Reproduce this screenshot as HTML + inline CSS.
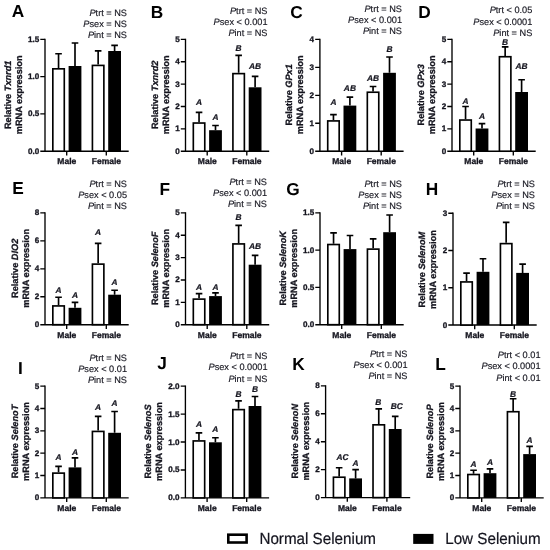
<!DOCTYPE html>
<html><head><meta charset="utf-8"><title>Figure</title>
<style>
html,body{margin:0;padding:0;background:#fff;}
svg{display:block;font-family:"Liberation Sans", Arial, sans-serif;fill:#15151f;text-rendering:geometricPrecision;}
.tk{font-size:8.1px;font-weight:bold;stroke:#15151f;stroke-width:.3px;}
.xl{font-size:8.5px;font-weight:bold;stroke:#15151f;stroke-width:.3px;}
.yl{font-size:9.2px;font-weight:bold;stroke:#15151f;stroke-width:.3px;}
.lt{font-size:8.4px;font-weight:bold;font-style:italic;stroke:#15151f;stroke-width:.2px;}
.tt{font-size:17.3px;font-weight:bold;fill:#000;}
.pp{font-size:9.2px;stroke:#15151f;stroke-width:.15px;}
.lg{font-size:15.6px;stroke:#15151f;stroke-width:.2px;}
</style></head><body>
<svg width="550" height="550" viewBox="0 0 550 550">
<rect width="550" height="550" fill="#fff"/>
<path d="M45.0 38.725 V151.2 M40.3 151.2 H128.7" stroke="#000" stroke-width="1.35" fill="none"/>
<text x="39.2" y="153.70" text-anchor="end" class="tk">0.0</text>
<text x="39.2" y="116.43" text-anchor="end" class="tk">0.5</text>
<text x="39.2" y="79.17" text-anchor="end" class="tk">1.0</text>
<text x="39.2" y="41.90" text-anchor="end" class="tk">1.5</text>
<path d="M40.3 113.93 H45.0 M40.3 76.67 H45.0 M40.3 39.40 H45.0 M66.7 151.2 V155.39999999999998 M106.3 151.2 V155.39999999999998 " stroke="#000" stroke-width="1.35" fill="none"/>
<path d="M58.55 68 V53.7 M55.25 53.7 H61.85" stroke="#000" stroke-width="1.65" fill="none"/>
<rect x="52.83" y="68.83" width="11.45" height="82.37" fill="#fff" stroke="#000" stroke-width="1.65"/>
<path d="M75.00 66.0 V43.0 M71.70 43.0 H78.30" stroke="#000" stroke-width="1.65" fill="none"/>
<rect x="68.60" y="66.00" width="12.80" height="85.20" fill="#000"/>
<path d="M98.15 64.6 V50.9 M94.85 50.9 H101.45" stroke="#000" stroke-width="1.65" fill="none"/>
<rect x="92.42" y="65.42" width="11.45" height="85.77" fill="#fff" stroke="#000" stroke-width="1.65"/>
<path d="M114.60 51 V45.3 M111.30 45.3 H117.90" stroke="#000" stroke-width="1.65" fill="none"/>
<rect x="108.20" y="51.00" width="12.80" height="100.20" fill="#000"/>
<text x="66.8" y="164.20" text-anchor="middle" class="xl">Male</text>
<text x="106.4" y="164.20" text-anchor="middle" class="xl">Female</text>
<text transform="translate(10.99 94.8) rotate(-90)" text-anchor="middle" class="yl">Relative <tspan font-style="italic">Txnrd1</tspan></text>
<text transform="translate(21.990000000000002 94.8) rotate(-90)" text-anchor="middle" class="yl">mRNA expression</text>
<text x="11.8" y="17.3" class="tt">A</text>
<text x="127" y="15.70" text-anchor="end" class="pp"><tspan font-style="italic">P</tspan>trt = NS</text>
<text x="127" y="26.60" text-anchor="end" class="pp"><tspan font-style="italic">P</tspan>sex = NS</text>
<text x="127" y="37.50" text-anchor="end" class="pp"><tspan font-style="italic">P</tspan>int = NS</text>
<path d="M185.5 38.725 V151.2 M180.8 151.2 H269.2" stroke="#000" stroke-width="1.35" fill="none"/>
<text x="179.7" y="153.70" text-anchor="end" class="tk">0</text>
<text x="179.7" y="131.34" text-anchor="end" class="tk">1</text>
<text x="179.7" y="108.98" text-anchor="end" class="tk">2</text>
<text x="179.7" y="86.62" text-anchor="end" class="tk">3</text>
<text x="179.7" y="64.26" text-anchor="end" class="tk">4</text>
<text x="179.7" y="41.90" text-anchor="end" class="tk">5</text>
<path d="M180.8 128.84 H185.5 M180.8 106.48 H185.5 M180.8 84.12 H185.5 M180.8 61.76 H185.5 M180.8 39.40 H185.5 M207.2 151.2 V155.39999999999998 M246.8 151.2 V155.39999999999998 " stroke="#000" stroke-width="1.35" fill="none"/>
<path d="M199.05 122.2 V112.4 M195.75 112.4 H202.35" stroke="#000" stroke-width="1.65" fill="none"/>
<rect x="193.32" y="123.03" width="11.45" height="28.17" fill="#fff" stroke="#000" stroke-width="1.65"/>
<text x="199.05" y="105" text-anchor="middle" class="lt">A</text>
<path d="M215.50 130.2 V125.5 M212.20 125.5 H218.80" stroke="#000" stroke-width="1.65" fill="none"/>
<rect x="209.10" y="130.20" width="12.80" height="21.00" fill="#000"/>
<text x="215.50" y="120" text-anchor="middle" class="lt">A</text>
<path d="M238.65 72.8 V55.4 M235.35 55.4 H241.95" stroke="#000" stroke-width="1.65" fill="none"/>
<rect x="232.92" y="73.62" width="11.45" height="77.57" fill="#fff" stroke="#000" stroke-width="1.65"/>
<text x="238.65" y="50.7" text-anchor="middle" class="lt">B</text>
<path d="M255.10 87.3 V76.4 M251.80 76.4 H258.40" stroke="#000" stroke-width="1.65" fill="none"/>
<rect x="248.70" y="87.30" width="12.80" height="63.90" fill="#000"/>
<text x="255.10" y="69" text-anchor="middle" class="lt">AB</text>
<text x="207.3" y="164.20" text-anchor="middle" class="xl">Male</text>
<text x="246.9" y="164.20" text-anchor="middle" class="xl">Female</text>
<text transform="translate(158.25 94.8) rotate(-90)" text-anchor="middle" class="yl">Relative <tspan font-style="italic">Txnrd2</tspan></text>
<text transform="translate(169.25 94.8) rotate(-90)" text-anchor="middle" class="yl">mRNA expression</text>
<text x="150.7" y="17.5" class="tt">B</text>
<text x="267.5" y="14.00" text-anchor="end" class="pp"><tspan font-style="italic">P</tspan>trt = NS</text>
<text x="267.5" y="25.00" text-anchor="end" class="pp"><tspan font-style="italic">P</tspan>sex &lt; 0.001</text>
<text x="267.5" y="36.00" text-anchor="end" class="pp"><tspan font-style="italic">P</tspan>int = NS</text>
<path d="M319.9 38.725 V151.2 M315.2 151.2 H403.59999999999997" stroke="#000" stroke-width="1.35" fill="none"/>
<text x="314.09999999999997" y="153.70" text-anchor="end" class="tk">0</text>
<text x="314.09999999999997" y="125.75" text-anchor="end" class="tk">1</text>
<text x="314.09999999999997" y="97.80" text-anchor="end" class="tk">2</text>
<text x="314.09999999999997" y="69.85" text-anchor="end" class="tk">3</text>
<text x="314.09999999999997" y="41.90" text-anchor="end" class="tk">4</text>
<path d="M315.2 123.25 H319.9 M315.2 95.30 H319.9 M315.2 67.35 H319.9 M315.2 39.40 H319.9 M341.59999999999997 151.2 V155.39999999999998 M381.2 151.2 V155.39999999999998 " stroke="#000" stroke-width="1.35" fill="none"/>
<path d="M333.45 120.1 V114.6 M330.15 114.6 H336.75" stroke="#000" stroke-width="1.65" fill="none"/>
<rect x="327.72" y="120.92" width="11.45" height="30.27" fill="#fff" stroke="#000" stroke-width="1.65"/>
<text x="333.45" y="105" text-anchor="middle" class="lt">A</text>
<path d="M349.90 105.6 V97.1 M346.60 97.1 H353.20" stroke="#000" stroke-width="1.65" fill="none"/>
<rect x="343.50" y="105.60" width="12.80" height="45.60" fill="#000"/>
<text x="349.90" y="90.6" text-anchor="middle" class="lt">AB</text>
<path d="M373.05 91.4 V86.5 M369.75 86.5 H376.35" stroke="#000" stroke-width="1.65" fill="none"/>
<rect x="367.32" y="92.23" width="11.45" height="58.97" fill="#fff" stroke="#000" stroke-width="1.65"/>
<text x="373.05" y="81.3" text-anchor="middle" class="lt">AB</text>
<path d="M389.50 72.8 V57 M386.20 57 H392.80" stroke="#000" stroke-width="1.65" fill="none"/>
<rect x="383.10" y="72.80" width="12.80" height="78.40" fill="#000"/>
<text x="389.50" y="52.4" text-anchor="middle" class="lt">B</text>
<text x="341.7" y="164.20" text-anchor="middle" class="xl">Male</text>
<text x="381.29999999999995" y="164.20" text-anchor="middle" class="xl">Female</text>
<text transform="translate(292.15 94.8) rotate(-90)" text-anchor="middle" class="yl">Relative <tspan font-style="italic">GPx1</tspan></text>
<text transform="translate(303.15 94.8) rotate(-90)" text-anchor="middle" class="yl">mRNA expression</text>
<text x="290.2" y="17.5" class="tt">C</text>
<text x="402" y="12.00" text-anchor="end" class="pp"><tspan font-style="italic">P</tspan>trt = NS</text>
<text x="402" y="22.90" text-anchor="end" class="pp"><tspan font-style="italic">P</tspan>sex &lt; 0.001</text>
<text x="402" y="33.80" text-anchor="end" class="pp"><tspan font-style="italic">P</tspan>int = NS</text>
<path d="M452.0 38.725 V151.2 M447.3 151.2 H535.7" stroke="#000" stroke-width="1.35" fill="none"/>
<text x="446.2" y="153.70" text-anchor="end" class="tk">0</text>
<text x="446.2" y="131.34" text-anchor="end" class="tk">1</text>
<text x="446.2" y="108.98" text-anchor="end" class="tk">2</text>
<text x="446.2" y="86.62" text-anchor="end" class="tk">3</text>
<text x="446.2" y="64.26" text-anchor="end" class="tk">4</text>
<text x="446.2" y="41.90" text-anchor="end" class="tk">5</text>
<path d="M447.3 128.84 H452.0 M447.3 106.48 H452.0 M447.3 84.12 H452.0 M447.3 61.76 H452.0 M447.3 39.40 H452.0 M473.7 151.2 V155.39999999999998 M513.3 151.2 V155.39999999999998 " stroke="#000" stroke-width="1.35" fill="none"/>
<path d="M465.55 119.2 V106.5 M462.25 106.5 H468.85" stroke="#000" stroke-width="1.65" fill="none"/>
<rect x="459.82" y="120.03" width="11.45" height="31.17" fill="#fff" stroke="#000" stroke-width="1.65"/>
<text x="465.55" y="104.4" text-anchor="middle" class="lt">A</text>
<path d="M482.00 128.5 V123.6 M478.70 123.6 H485.30" stroke="#000" stroke-width="1.65" fill="none"/>
<rect x="475.60" y="128.50" width="12.80" height="22.70" fill="#000"/>
<text x="482.00" y="118.8" text-anchor="middle" class="lt">A</text>
<path d="M505.15 55.9 V46.9 M501.85 46.9 H508.45" stroke="#000" stroke-width="1.65" fill="none"/>
<rect x="499.43" y="56.73" width="11.45" height="94.47" fill="#fff" stroke="#000" stroke-width="1.65"/>
<text x="505.15" y="44.5" text-anchor="middle" class="lt">B</text>
<path d="M521.60 92 V79.7 M518.30 79.7 H524.90" stroke="#000" stroke-width="1.65" fill="none"/>
<rect x="515.20" y="92.00" width="12.80" height="59.20" fill="#000"/>
<text x="521.60" y="68.8" text-anchor="middle" class="lt">AB</text>
<text x="473.8" y="164.20" text-anchor="middle" class="xl">Male</text>
<text x="513.4" y="164.20" text-anchor="middle" class="xl">Female</text>
<text transform="translate(424.35 94.8) rotate(-90)" text-anchor="middle" class="yl">Relative <tspan font-style="italic">GPx3</tspan></text>
<text transform="translate(435.35 94.8) rotate(-90)" text-anchor="middle" class="yl">mRNA expression</text>
<text x="418.2" y="17.5" class="tt">D</text>
<text x="532.3" y="13.40" text-anchor="end" class="pp"><tspan font-style="italic">P</tspan>trt &lt; 0.05</text>
<text x="532.3" y="24.55" text-anchor="end" class="pp"><tspan font-style="italic">P</tspan>sex &lt; 0.0001</text>
<text x="532.3" y="35.70" text-anchor="end" class="pp"><tspan font-style="italic">P</tspan>int = NS</text>
<path d="M45.0 212.225 V324.7 M40.3 324.7 H128.7" stroke="#000" stroke-width="1.35" fill="none"/>
<text x="39.2" y="327.20" text-anchor="end" class="tk">0</text>
<text x="39.2" y="299.25" text-anchor="end" class="tk">2</text>
<text x="39.2" y="271.30" text-anchor="end" class="tk">4</text>
<text x="39.2" y="243.35" text-anchor="end" class="tk">6</text>
<text x="39.2" y="215.40" text-anchor="end" class="tk">8</text>
<path d="M40.3 296.75 H45.0 M40.3 268.80 H45.0 M40.3 240.85 H45.0 M40.3 212.90 H45.0 M66.7 324.7 V328.9 M106.3 324.7 V328.9 " stroke="#000" stroke-width="1.35" fill="none"/>
<path d="M58.55 305.1 V297.2 M55.25 297.2 H61.85" stroke="#000" stroke-width="1.65" fill="none"/>
<rect x="52.83" y="305.93" width="11.45" height="18.77" fill="#fff" stroke="#000" stroke-width="1.65"/>
<text x="58.55" y="293.0" text-anchor="middle" class="lt">A</text>
<path d="M75.00 307.8 V302.3 M71.70 302.3 H78.30" stroke="#000" stroke-width="1.65" fill="none"/>
<rect x="68.60" y="307.80" width="12.80" height="16.90" fill="#000"/>
<text x="75.00" y="298.3" text-anchor="middle" class="lt">A</text>
<path d="M98.15 263.3 V243.4 M94.85 243.4 H101.45" stroke="#000" stroke-width="1.65" fill="none"/>
<rect x="92.42" y="264.12" width="11.45" height="60.57" fill="#fff" stroke="#000" stroke-width="1.65"/>
<text x="98.15" y="235.2" text-anchor="middle" class="lt">A</text>
<path d="M114.60 294.7 V290.2 M111.30 290.2 H117.90" stroke="#000" stroke-width="1.65" fill="none"/>
<rect x="108.20" y="294.70" width="12.80" height="30.00" fill="#000"/>
<text x="114.60" y="284.7" text-anchor="middle" class="lt">A</text>
<text x="66.8" y="337.70" text-anchor="middle" class="xl">Male</text>
<text x="106.4" y="337.70" text-anchor="middle" class="xl">Female</text>
<text transform="translate(17.75 268.3) rotate(-90)" text-anchor="middle" class="yl">Relative <tspan font-style="italic">DIO2</tspan></text>
<text transform="translate(28.75 268.3) rotate(-90)" text-anchor="middle" class="yl">mRNA expression</text>
<text x="12.2" y="194.3" class="tt">E</text>
<text x="127" y="186.50" text-anchor="end" class="pp"><tspan font-style="italic">P</tspan>trt = NS</text>
<text x="127" y="197.70" text-anchor="end" class="pp"><tspan font-style="italic">P</tspan>sex &lt; 0.05</text>
<text x="127" y="208.90" text-anchor="end" class="pp"><tspan font-style="italic">P</tspan>int = NS</text>
<path d="M185.5 212.225 V324.7 M180.8 324.7 H269.2" stroke="#000" stroke-width="1.35" fill="none"/>
<text x="179.7" y="327.20" text-anchor="end" class="tk">0</text>
<text x="179.7" y="304.84" text-anchor="end" class="tk">1</text>
<text x="179.7" y="282.48" text-anchor="end" class="tk">2</text>
<text x="179.7" y="260.12" text-anchor="end" class="tk">3</text>
<text x="179.7" y="237.76" text-anchor="end" class="tk">4</text>
<text x="179.7" y="215.40" text-anchor="end" class="tk">5</text>
<path d="M180.8 302.34 H185.5 M180.8 279.98 H185.5 M180.8 257.62 H185.5 M180.8 235.26 H185.5 M180.8 212.90 H185.5 M207.2 324.7 V328.9 M246.8 324.7 V328.9 " stroke="#000" stroke-width="1.35" fill="none"/>
<path d="M199.05 298.3 V293.6 M195.75 293.6 H202.35" stroke="#000" stroke-width="1.65" fill="none"/>
<rect x="193.32" y="299.12" width="11.45" height="25.57" fill="#fff" stroke="#000" stroke-width="1.65"/>
<text x="199.05" y="290" text-anchor="middle" class="lt">A</text>
<path d="M215.50 296.1 V292.8 M212.20 292.8 H218.80" stroke="#000" stroke-width="1.65" fill="none"/>
<rect x="209.10" y="296.10" width="12.80" height="28.60" fill="#000"/>
<text x="215.50" y="290" text-anchor="middle" class="lt">A</text>
<path d="M238.65 243.1 V225.4 M235.35 225.4 H241.95" stroke="#000" stroke-width="1.65" fill="none"/>
<rect x="232.92" y="243.92" width="11.45" height="80.77" fill="#fff" stroke="#000" stroke-width="1.65"/>
<text x="238.65" y="220" text-anchor="middle" class="lt">B</text>
<path d="M255.10 264.7 V255.4 M251.80 255.4 H258.40" stroke="#000" stroke-width="1.65" fill="none"/>
<rect x="248.70" y="264.70" width="12.80" height="60.00" fill="#000"/>
<text x="255.10" y="249" text-anchor="middle" class="lt">AB</text>
<text x="207.3" y="337.70" text-anchor="middle" class="xl">Male</text>
<text x="246.9" y="337.70" text-anchor="middle" class="xl">Female</text>
<text transform="translate(158.25 268.3) rotate(-90)" text-anchor="middle" class="yl">Relative <tspan font-style="italic">SelenoF</tspan></text>
<text transform="translate(169.25 268.3) rotate(-90)" text-anchor="middle" class="yl">mRNA expression</text>
<text x="159.5" y="194.5" class="tt">F</text>
<text x="267" y="184.50" text-anchor="end" class="pp"><tspan font-style="italic">P</tspan>trt = NS</text>
<text x="267" y="195.85" text-anchor="end" class="pp"><tspan font-style="italic">P</tspan>sex &lt; 0.001</text>
<text x="267" y="207.20" text-anchor="end" class="pp"><tspan font-style="italic">P</tspan>int = NS</text>
<path d="M320.0 212.225 V324.7 M315.3 324.7 H403.7" stroke="#000" stroke-width="1.35" fill="none"/>
<text x="314.2" y="327.20" text-anchor="end" class="tk">0.0</text>
<text x="314.2" y="289.93" text-anchor="end" class="tk">0.5</text>
<text x="314.2" y="252.67" text-anchor="end" class="tk">1.0</text>
<text x="314.2" y="215.40" text-anchor="end" class="tk">1.5</text>
<path d="M315.3 287.43 H320.0 M315.3 250.17 H320.0 M315.3 212.90 H320.0 M341.7 324.7 V328.9 M381.3 324.7 V328.9 " stroke="#000" stroke-width="1.35" fill="none"/>
<path d="M333.55 243.7 V232.8 M330.25 232.8 H336.85" stroke="#000" stroke-width="1.65" fill="none"/>
<rect x="327.82" y="244.52" width="11.45" height="80.17" fill="#fff" stroke="#000" stroke-width="1.65"/>
<path d="M350.00 249.1 V235.5 M346.70 235.5 H353.30" stroke="#000" stroke-width="1.65" fill="none"/>
<rect x="343.60" y="249.10" width="12.80" height="75.60" fill="#000"/>
<path d="M373.15 248.3 V238.8 M369.85 238.8 H376.45" stroke="#000" stroke-width="1.65" fill="none"/>
<rect x="367.43" y="249.12" width="11.45" height="75.57" fill="#fff" stroke="#000" stroke-width="1.65"/>
<path d="M389.60 232.2 V215 M386.30 215 H392.90" stroke="#000" stroke-width="1.65" fill="none"/>
<rect x="383.20" y="232.20" width="12.80" height="92.50" fill="#000"/>
<text x="341.8" y="337.70" text-anchor="middle" class="xl">Male</text>
<text x="381.4" y="337.70" text-anchor="middle" class="xl">Female</text>
<text transform="translate(285.69 268.3) rotate(-90)" text-anchor="middle" class="yl">Relative <tspan font-style="italic">SelenoK</tspan></text>
<text transform="translate(296.69 268.3) rotate(-90)" text-anchor="middle" class="yl">mRNA expression</text>
<text x="286.2" y="194.6" class="tt">G</text>
<text x="402" y="186.50" text-anchor="end" class="pp"><tspan font-style="italic">P</tspan>trt = NS</text>
<text x="402" y="197.50" text-anchor="end" class="pp"><tspan font-style="italic">P</tspan>sex = NS</text>
<text x="402" y="208.50" text-anchor="end" class="pp"><tspan font-style="italic">P</tspan>int = NS</text>
<path d="M453.0 212.52499999999998 V325.0 M448.3 325.0 H536.7" stroke="#000" stroke-width="1.35" fill="none"/>
<text x="447.2" y="327.50" text-anchor="end" class="tk">0</text>
<text x="447.2" y="290.23" text-anchor="end" class="tk">1</text>
<text x="447.2" y="252.97" text-anchor="end" class="tk">2</text>
<text x="447.2" y="215.70" text-anchor="end" class="tk">3</text>
<path d="M448.3 287.73 H453.0 M448.3 250.47 H453.0 M448.3 213.20 H453.0 M474.7 325.0 V329.2 M514.3 325.0 V329.2 " stroke="#000" stroke-width="1.35" fill="none"/>
<path d="M466.55 281.1 V273.1 M463.25 273.1 H469.85" stroke="#000" stroke-width="1.65" fill="none"/>
<rect x="460.82" y="281.93" width="11.45" height="43.07" fill="#fff" stroke="#000" stroke-width="1.65"/>
<path d="M483.00 271.8 V258.7 M479.70 258.7 H486.30" stroke="#000" stroke-width="1.65" fill="none"/>
<rect x="476.60" y="271.80" width="12.80" height="53.20" fill="#000"/>
<path d="M506.15 242.8 V222.4 M502.85 222.4 H509.45" stroke="#000" stroke-width="1.65" fill="none"/>
<rect x="500.43" y="243.62" width="11.45" height="81.37" fill="#fff" stroke="#000" stroke-width="1.65"/>
<path d="M522.60 272.9 V264.1 M519.30 264.1 H525.90" stroke="#000" stroke-width="1.65" fill="none"/>
<rect x="516.20" y="272.90" width="12.80" height="52.10" fill="#000"/>
<text x="474.8" y="338.00" text-anchor="middle" class="xl">Male</text>
<text x="514.4" y="338.00" text-anchor="middle" class="xl">Female</text>
<text transform="translate(425.05 269.6) rotate(-90)" text-anchor="middle" class="yl">Relative <tspan font-style="italic">SelenoM</tspan></text>
<text transform="translate(436.05 269.6) rotate(-90)" text-anchor="middle" class="yl">mRNA expression</text>
<text x="425.7" y="194.5" class="tt">H</text>
<text x="535" y="186.50" text-anchor="end" class="pp"><tspan font-style="italic">P</tspan>trt = NS</text>
<text x="535" y="197.50" text-anchor="end" class="pp"><tspan font-style="italic">P</tspan>sex = NS</text>
<text x="535" y="208.50" text-anchor="end" class="pp"><tspan font-style="italic">P</tspan>int = NS</text>
<path d="M45.0 385.425 V497.9 M40.3 497.9 H128.7" stroke="#000" stroke-width="1.35" fill="none"/>
<text x="39.2" y="500.40" text-anchor="end" class="tk">0</text>
<text x="39.2" y="478.04" text-anchor="end" class="tk">1</text>
<text x="39.2" y="455.68" text-anchor="end" class="tk">2</text>
<text x="39.2" y="433.32" text-anchor="end" class="tk">3</text>
<text x="39.2" y="410.96" text-anchor="end" class="tk">4</text>
<text x="39.2" y="388.60" text-anchor="end" class="tk">5</text>
<path d="M40.3 475.54 H45.0 M40.3 453.18 H45.0 M40.3 430.82 H45.0 M40.3 408.46 H45.0 M40.3 386.10 H45.0 M66.7 497.9 V502.09999999999997 M106.3 497.9 V502.09999999999997 " stroke="#000" stroke-width="1.35" fill="none"/>
<path d="M58.55 472.3 V466.3 M55.25 466.3 H61.85" stroke="#000" stroke-width="1.65" fill="none"/>
<rect x="52.83" y="473.12" width="11.45" height="24.77" fill="#fff" stroke="#000" stroke-width="1.65"/>
<text x="58.55" y="460" text-anchor="middle" class="lt">A</text>
<path d="M75.00 467.4 V457.9 M71.70 457.9 H78.30" stroke="#000" stroke-width="1.65" fill="none"/>
<rect x="68.60" y="467.40" width="12.80" height="30.50" fill="#000"/>
<text x="75.00" y="455.3" text-anchor="middle" class="lt">A</text>
<path d="M98.15 430.6 V416.4 M94.85 416.4 H101.45" stroke="#000" stroke-width="1.65" fill="none"/>
<rect x="92.42" y="431.43" width="11.45" height="66.47" fill="#fff" stroke="#000" stroke-width="1.65"/>
<text x="98.15" y="409.6" text-anchor="middle" class="lt">A</text>
<path d="M114.60 432.8 V411.5 M111.30 411.5 H117.90" stroke="#000" stroke-width="1.65" fill="none"/>
<rect x="108.20" y="432.80" width="12.80" height="65.10" fill="#000"/>
<text x="114.60" y="405.5" text-anchor="middle" class="lt">A</text>
<text x="66.8" y="510.90" text-anchor="middle" class="xl">Male</text>
<text x="106.4" y="510.90" text-anchor="middle" class="xl">Female</text>
<text transform="translate(17.75 441.5) rotate(-90)" text-anchor="middle" class="yl">Relative <tspan font-style="italic">SelenoT</tspan></text>
<text transform="translate(28.75 441.5) rotate(-90)" text-anchor="middle" class="yl">mRNA expression</text>
<text x="17.9" y="373.7" class="tt">I</text>
<text x="127" y="360.80" text-anchor="end" class="pp"><tspan font-style="italic">P</tspan>trt = NS</text>
<text x="127" y="372.00" text-anchor="end" class="pp"><tspan font-style="italic">P</tspan>sex &lt; 0.01</text>
<text x="127" y="383.20" text-anchor="end" class="pp"><tspan font-style="italic">P</tspan>int = NS</text>
<path d="M185.4 385.425 V497.9 M180.70000000000002 497.9 H269.1" stroke="#000" stroke-width="1.35" fill="none"/>
<text x="179.6" y="500.40" text-anchor="end" class="tk">0.0</text>
<text x="179.6" y="472.45" text-anchor="end" class="tk">0.5</text>
<text x="179.6" y="444.50" text-anchor="end" class="tk">1.0</text>
<text x="179.6" y="416.55" text-anchor="end" class="tk">1.5</text>
<text x="179.6" y="388.60" text-anchor="end" class="tk">2.0</text>
<path d="M180.70000000000002 469.95 H185.4 M180.70000000000002 442.00 H185.4 M180.70000000000002 414.05 H185.4 M180.70000000000002 386.10 H185.4 M207.1 497.9 V502.09999999999997 M246.7 497.9 V502.09999999999997 " stroke="#000" stroke-width="1.35" fill="none"/>
<path d="M198.95 440.1 V432.8 M195.65 432.8 H202.25" stroke="#000" stroke-width="1.65" fill="none"/>
<rect x="193.22" y="440.93" width="11.45" height="56.97" fill="#fff" stroke="#000" stroke-width="1.65"/>
<text x="198.95" y="427.3" text-anchor="middle" class="lt">A</text>
<path d="M215.40 442.3 V437.7 M212.10 437.7 H218.70" stroke="#000" stroke-width="1.65" fill="none"/>
<rect x="209.00" y="442.30" width="12.80" height="55.60" fill="#000"/>
<text x="215.40" y="432.2" text-anchor="middle" class="lt">A</text>
<path d="M238.55 408.8 V400.8 M235.25 400.8 H241.85" stroke="#000" stroke-width="1.65" fill="none"/>
<rect x="232.82" y="409.62" width="11.45" height="88.27" fill="#fff" stroke="#000" stroke-width="1.65"/>
<text x="238.55" y="396.7" text-anchor="middle" class="lt">B</text>
<path d="M255.00 406 V396.5 M251.70 396.5 H258.30" stroke="#000" stroke-width="1.65" fill="none"/>
<rect x="248.60" y="406.00" width="12.80" height="91.90" fill="#000"/>
<text x="255.00" y="392.4" text-anchor="middle" class="lt">B</text>
<text x="207.20000000000002" y="510.90" text-anchor="middle" class="xl">Male</text>
<text x="246.8" y="510.90" text-anchor="middle" class="xl">Female</text>
<text transform="translate(151.39000000000001 441.5) rotate(-90)" text-anchor="middle" class="yl">Relative <tspan font-style="italic">SelenoS</tspan></text>
<text transform="translate(162.39000000000001 441.5) rotate(-90)" text-anchor="middle" class="yl">mRNA expression</text>
<text x="157.2" y="369.4" class="tt">J</text>
<text x="267.5" y="359.20" text-anchor="end" class="pp"><tspan font-style="italic">P</tspan>trt = NS</text>
<text x="267.5" y="370.35" text-anchor="end" class="pp"><tspan font-style="italic">P</tspan>sex &lt; 0.0001</text>
<text x="267.5" y="381.50" text-anchor="end" class="pp"><tspan font-style="italic">P</tspan>int = NS</text>
<path d="M325.6 385.125 V497.6 M320.90000000000003 497.6 H410.20000000000005" stroke="#000" stroke-width="1.35" fill="none"/>
<text x="319.8" y="500.10" text-anchor="end" class="tk">0</text>
<text x="319.8" y="472.15" text-anchor="end" class="tk">2</text>
<text x="319.8" y="444.20" text-anchor="end" class="tk">4</text>
<text x="319.8" y="416.25" text-anchor="end" class="tk">6</text>
<text x="319.8" y="388.30" text-anchor="end" class="tk">8</text>
<path d="M320.90000000000003 469.65 H325.6 M320.90000000000003 441.70 H325.6 M320.90000000000003 413.75 H325.6 M320.90000000000003 385.80 H325.6 M347.3 497.6 V501.8 M386.90000000000003 497.6 V501.8 " stroke="#000" stroke-width="1.35" fill="none"/>
<path d="M339.15 476.4 V467.7 M335.85 467.7 H342.45" stroke="#000" stroke-width="1.65" fill="none"/>
<rect x="333.43" y="477.22" width="11.45" height="20.38" fill="#fff" stroke="#000" stroke-width="1.65"/>
<text x="342.55" y="460" text-anchor="middle" class="lt">AC</text>
<path d="M355.60 478.4 V469.6 M352.30 469.6 H358.90" stroke="#000" stroke-width="1.65" fill="none"/>
<rect x="349.20" y="478.40" width="12.80" height="19.20" fill="#000"/>
<text x="355.60" y="465.5" text-anchor="middle" class="lt">A</text>
<path d="M378.75 424 V408.8 M375.45 408.8 H382.05" stroke="#000" stroke-width="1.65" fill="none"/>
<rect x="373.03" y="424.82" width="11.45" height="72.78" fill="#fff" stroke="#000" stroke-width="1.65"/>
<text x="378.35" y="404.7" text-anchor="middle" class="lt">B</text>
<path d="M395.20 429 V416.4 M391.90 416.4 H398.50" stroke="#000" stroke-width="1.65" fill="none"/>
<rect x="388.80" y="429.00" width="12.80" height="68.60" fill="#000"/>
<text x="396.80" y="408.8" text-anchor="middle" class="lt">BC</text>
<text x="347.40000000000003" y="510.60" text-anchor="middle" class="xl">Male</text>
<text x="387.0" y="510.60" text-anchor="middle" class="xl">Female</text>
<text transform="translate(298.35 441.20000000000005) rotate(-90)" text-anchor="middle" class="yl">Relative <tspan font-style="italic">SelenoN</tspan></text>
<text transform="translate(309.35 441.20000000000005) rotate(-90)" text-anchor="middle" class="yl">mRNA expression</text>
<text x="292.2" y="369.5" class="tt">K</text>
<text x="407.5" y="356.80" text-anchor="end" class="pp"><tspan font-style="italic">P</tspan>trt = NS</text>
<text x="407.5" y="368.00" text-anchor="end" class="pp"><tspan font-style="italic">P</tspan>sex &lt; 0.001</text>
<text x="407.5" y="379.20" text-anchor="end" class="pp"><tspan font-style="italic">P</tspan>int = NS</text>
<path d="M460.0 385.425 V497.9 M455.3 497.9 H543.7" stroke="#000" stroke-width="1.35" fill="none"/>
<text x="454.2" y="500.40" text-anchor="end" class="tk">0</text>
<text x="454.2" y="478.04" text-anchor="end" class="tk">1</text>
<text x="454.2" y="455.68" text-anchor="end" class="tk">2</text>
<text x="454.2" y="433.32" text-anchor="end" class="tk">3</text>
<text x="454.2" y="410.96" text-anchor="end" class="tk">4</text>
<text x="454.2" y="388.60" text-anchor="end" class="tk">5</text>
<path d="M455.3 475.54 H460.0 M455.3 453.18 H460.0 M455.3 430.82 H460.0 M455.3 408.46 H460.0 M455.3 386.10 H460.0 M481.7 497.9 V502.09999999999997 M521.3 497.9 V502.09999999999997 " stroke="#000" stroke-width="1.35" fill="none"/>
<path d="M473.55 473.7 V470.2 M470.25 470.2 H476.85" stroke="#000" stroke-width="1.65" fill="none"/>
<rect x="467.82" y="474.52" width="11.45" height="23.37" fill="#fff" stroke="#000" stroke-width="1.65"/>
<text x="473.55" y="467.4" text-anchor="middle" class="lt">A</text>
<path d="M490.00 473.2 V468.8 M486.70 468.8 H493.30" stroke="#000" stroke-width="1.65" fill="none"/>
<rect x="483.60" y="473.20" width="12.80" height="24.70" fill="#000"/>
<text x="490.00" y="464.6" text-anchor="middle" class="lt">A</text>
<path d="M513.15 410.9 V398.7 M509.85 398.7 H516.45" stroke="#000" stroke-width="1.65" fill="none"/>
<rect x="507.43" y="411.72" width="11.45" height="86.17" fill="#fff" stroke="#000" stroke-width="1.65"/>
<text x="513.15" y="397.0" text-anchor="middle" class="lt">B</text>
<path d="M529.60 454.1 V446.4 M526.30 446.4 H532.90" stroke="#000" stroke-width="1.65" fill="none"/>
<rect x="523.20" y="454.10" width="12.80" height="43.80" fill="#000"/>
<text x="529.60" y="442.6" text-anchor="middle" class="lt">A</text>
<text x="481.8" y="510.90" text-anchor="middle" class="xl">Male</text>
<text x="521.4" y="510.90" text-anchor="middle" class="xl">Female</text>
<text transform="translate(432.75 441.5) rotate(-90)" text-anchor="middle" class="yl">Relative <tspan font-style="italic">SelenoP</tspan></text>
<text transform="translate(443.75 441.5) rotate(-90)" text-anchor="middle" class="yl">mRNA expression</text>
<text x="435.2" y="369.5" class="tt">L</text>
<text x="540.5" y="358.00" text-anchor="end" class="pp"><tspan font-style="italic">P</tspan>trt &lt; 0.01</text>
<text x="540.5" y="369.25" text-anchor="end" class="pp"><tspan font-style="italic">P</tspan>sex &lt; 0.0001</text>
<text x="540.5" y="380.50" text-anchor="end" class="pp"><tspan font-style="italic">P</tspan>int &lt; 0.01</text>
<rect x="228.3" y="534.7" width="18.3" height="7.8" fill="#fff" stroke="#000" stroke-width="2.6"/>
<text transform="translate(259.4 544.3) scale(0.975 1.03)" class="lg">Normal Selenium</text>
<rect x="413.2" y="533.9" width="20.3" height="10.0" fill="#000"/>
<text transform="translate(445.2 544.3) scale(0.975 1.03)" class="lg">Low Selenium</text>
</svg>
</body></html>
